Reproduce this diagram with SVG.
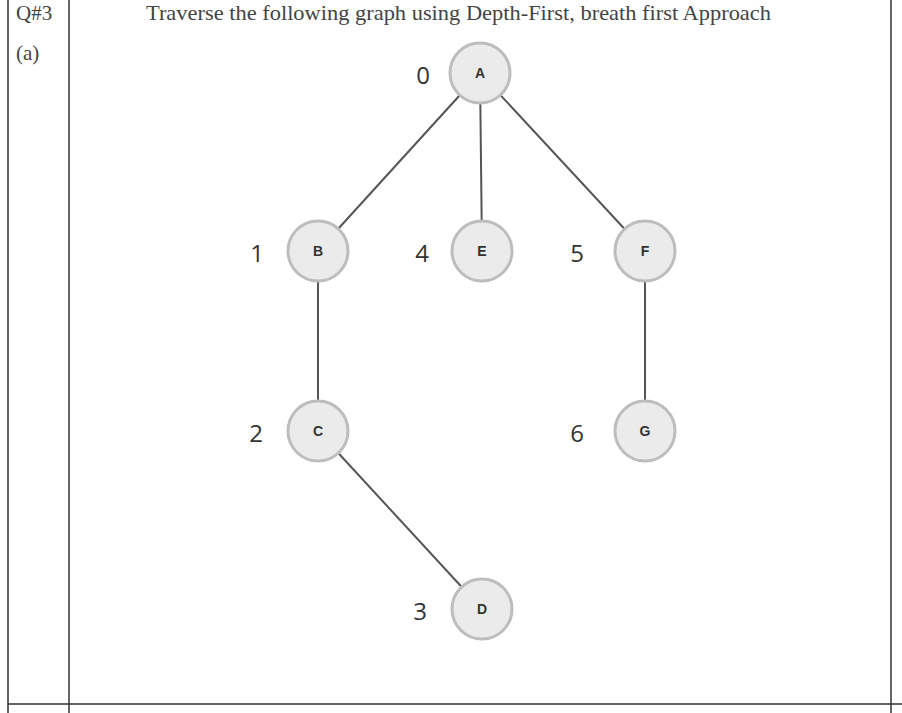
<svg xmlns="http://www.w3.org/2000/svg" width="902" height="713" viewBox="0 0 902 713">
<style>
.tb{stroke:#333;stroke-width:1.5;fill:none}
.ed line{stroke:#555;stroke-width:2}
.n circle{fill:#ebebeb;stroke:#bdbdbd;stroke-width:3}
.n text.l{font-family:"Liberation Sans",Arial,sans-serif;font-weight:bold;font-size:14px;fill:#333;text-anchor:middle}
.n text.k{font-family:"Open Sans","Liberation Sans",sans-serif;font-size:24px;fill:#333;text-anchor:middle}
.h{font-family:"Liberation Serif","Times New Roman",serif;font-size:21px;fill:#444}
</style>
<rect width="902" height="713" fill="#fff"/>
<g id="table">
<line class="tb" x1="8" y1="0" x2="8" y2="713"/>
<line class="tb" x1="69" y1="0" x2="69" y2="713"/>
<line class="tb" x1="891" y1="0" x2="891" y2="713"/>
<line class="tb" x1="8" y1="704" x2="902" y2="704"/>
<text class="h" x="16" y="20">Q#3</text>
<text class="h" x="16" y="60">(a)</text>
<text class="h" x="146" y="20" textLength="625" lengthAdjust="spacingAndGlyphs">Traverse the following graph using Depth-First, breath first Approach</text>
</g>
<g class="ed" id="connectors">
<line x1="480" y1="73" x2="318" y2="251"/>
<line x1="480" y1="73" x2="482" y2="251"/>
<line x1="480" y1="73" x2="645" y2="251"/>
<line x1="318" y1="251" x2="318" y2="431"/>
<line x1="645" y1="251" x2="645" y2="431"/>
<line x1="318" y1="431" x2="482" y2="609"/>
</g>
<g class="n" id="A"><circle cx="480" cy="73" r="30"/><text class="l" x="480" y="78">A</text><text class="k" x="423" y="84">0</text></g>
<g class="n" id="B"><circle cx="318" cy="251" r="30"/><text class="l" x="318" y="256">B</text><text class="k" x="257" y="262">1</text></g>
<g class="n" id="E"><circle cx="482" cy="251" r="30"/><text class="l" x="482" y="256">E</text><text class="k" x="422" y="262">4</text></g>
<g class="n" id="F"><circle cx="645" cy="251" r="30"/><text class="l" x="645" y="256">F</text><text class="k" x="577" y="262">5</text></g>
<g class="n" id="C"><circle cx="318" cy="431" r="30"/><text class="l" x="318" y="436">C</text><text class="k" x="256" y="442">2</text></g>
<g class="n" id="G"><circle cx="645" cy="431" r="30"/><text class="l" x="645" y="436">G</text><text class="k" x="577" y="442">6</text></g>
<g class="n" id="D"><circle cx="482" cy="609" r="30"/><text class="l" x="482" y="614">D</text><text class="k" x="420" y="620">3</text></g>
</svg>
